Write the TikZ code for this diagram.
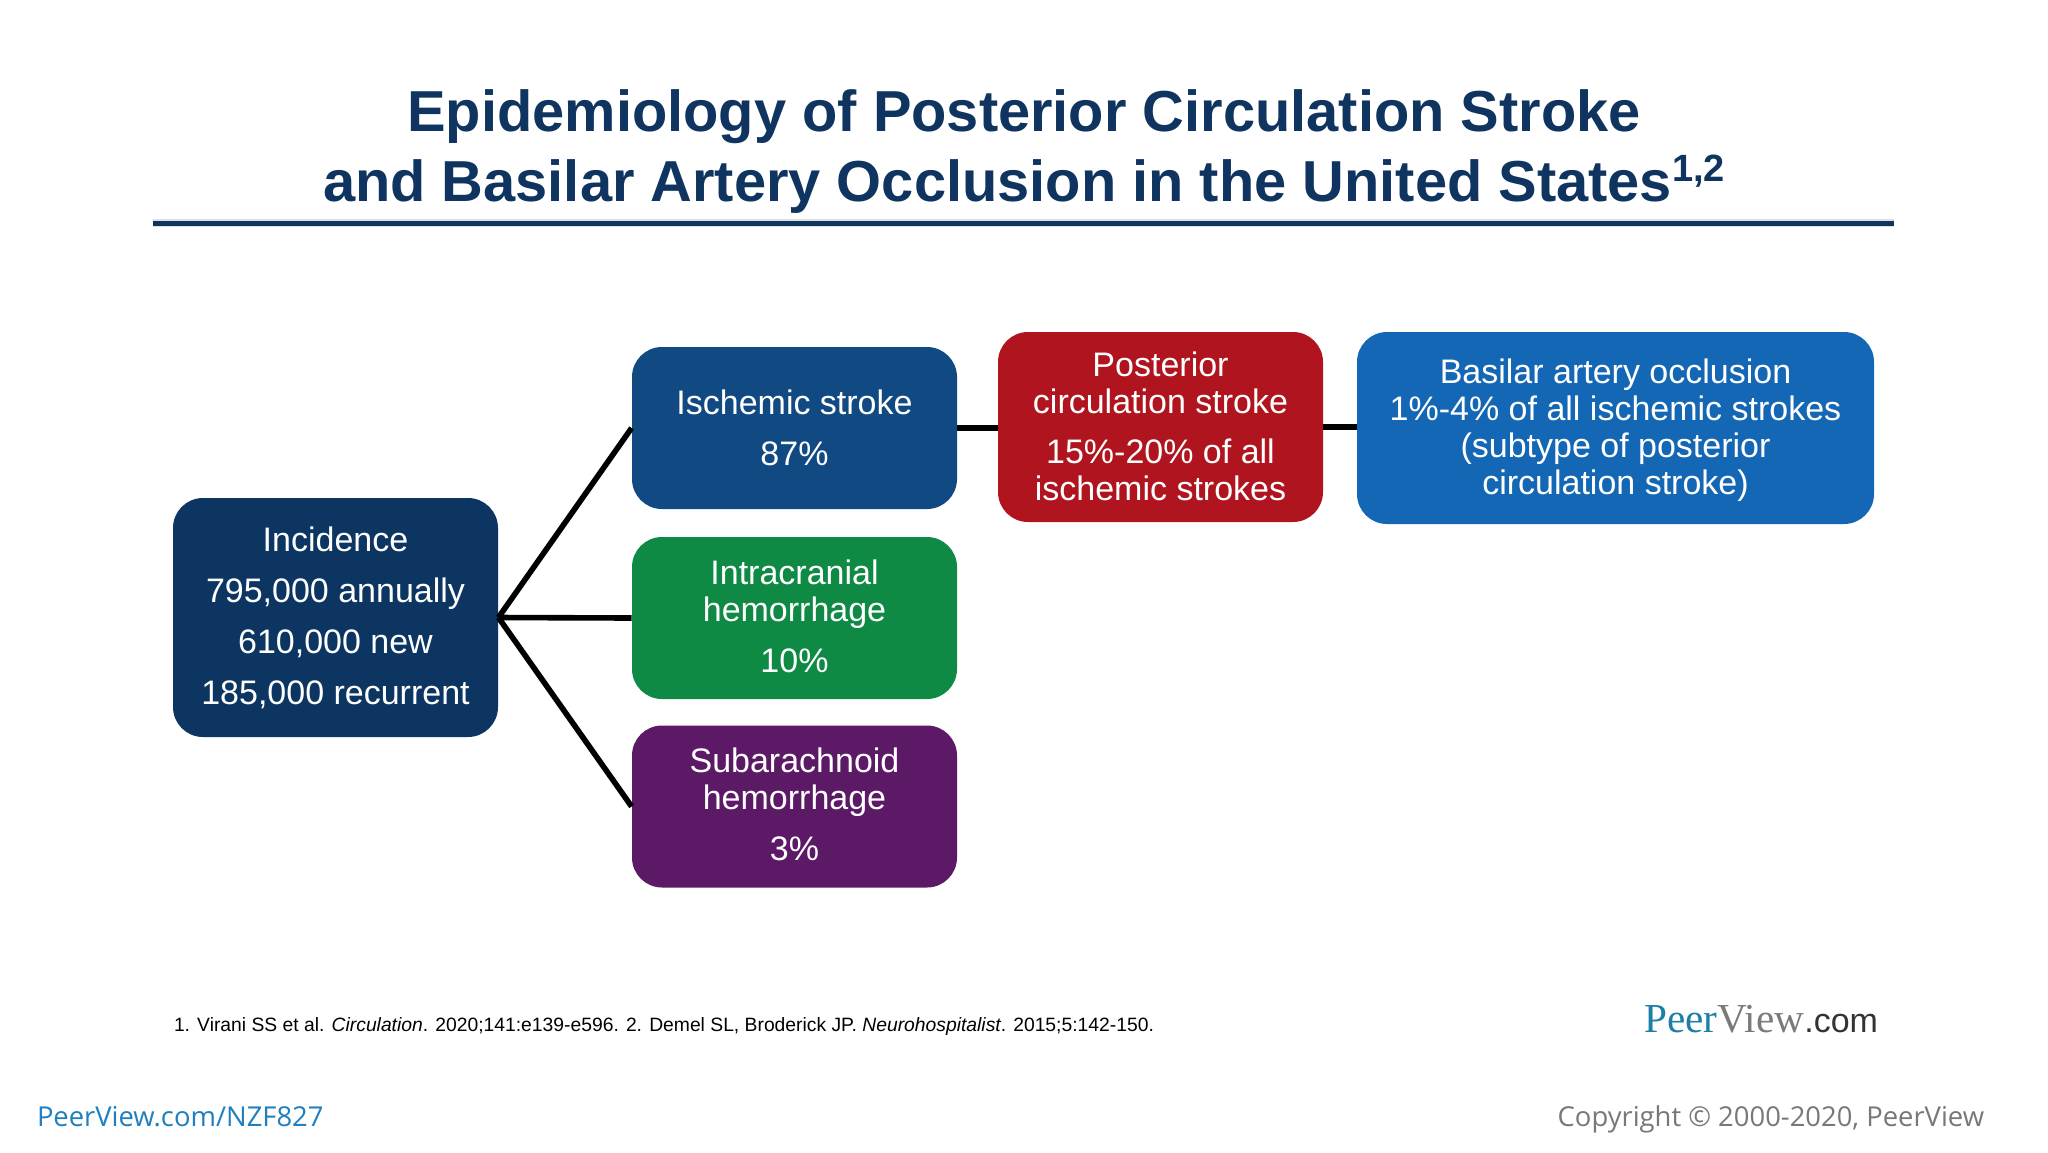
\documentclass[tikz,border=0pt]{standalone}
\usepackage{fontspec}
\setmainfont{Liberation Sans}
\newfontfamily\footfont{Open Sans}
\newfontfamily\brandserif{Liberation Serif}
\definecolor{titleblue}{HTML}{0F3460}
\definecolor{navybox}{HTML}{0C3562}
\definecolor{ischbox}{HTML}{114A82}
\definecolor{greenbox}{HTML}{0E8A44}
\definecolor{purplebox}{HTML}{5C1A66}
\definecolor{redbox}{HTML}{B0141F}
\definecolor{bluebox}{HTML}{1467B5}
\definecolor{linkblue}{HTML}{1F7FBF}
\definecolor{brandteal}{HTML}{1B7FA8}
\definecolor{brandgray}{HTML}{7A7A7A}
\definecolor{copygray}{HTML}{77787B}
\newcommand{\padbelow}{\\[-16.5pt]\mbox{}}
\tikzset{
  x=0.5pt,y=-0.5pt,
  box/.style={rounded corners=15pt,text=white,align=center,inner sep=0pt,minimum width=162.5pt,minimum height=81pt,font=\fontsize{17}{18.5}\selectfont},
  link/.style={draw=black,line width=2.8pt},
  txt/.style={inner sep=0pt,outer sep=0pt}
}
\begin{document}
\begin{tikzpicture}
\useasboundingbox[fill=white] (0,0) rectangle (2048,1152);
\node[txt,align=center,text=titleblue,font=\fontsize{28.9}{35}\selectfont\bfseries] (title) at (1024,151.5) {Epidemiology of Posterior Circulation Stroke\\and Basilar Artery Occlusion in the United States\raisebox{10pt}{\fontsize{19}{20}\selectfont 1,2}};
\coordinate (ruleL) at (153,223);
\coordinate (ruleR) at (1894,223);
\draw[line width=4pt,color=black!12,yshift=-1.5pt] (ruleL) -- (ruleR);
\draw[line width=2.5pt,color=titleblue] (ruleL) -- (ruleR);

\node[box,fill=navybox,minimum height=119.5pt] (inc) at (335.5,617.5) {Incidence\\[7pt]795,000 annually\\[7pt]610,000 new\\[7pt]185,000 recurrent};
\node[box,fill=ischbox] (isch) at (794.5,428) {Ischemic stroke\\[7pt]87\%};
\node[box,fill=greenbox] (ich) at (794.5,618) {Intracranial\\hemorrhage\\[7pt]10\%\padbelow};
\node[box,fill=purplebox] (sah) at (794.5,806.5) {Subarachnoid\\hemorrhage\\[7pt]3\%\padbelow};
\node[box,fill=redbox,minimum height=95pt] (red) at (1160.5,427) {Posterior\\circulation stroke\\[6.8pt]15\%-20\% of all\\ischemic strokes\\[-17.5pt]\mbox{}};
\node[box,fill=bluebox,minimum width=258.5pt,minimum height=96pt] (blue) at (1615.5,428) {\rule{0pt}{14.4pt}Basilar artery occlusion\\1\%-4\% of all ischemic strokes\\(subtype of posterior\\circulation stroke)};

\draw[link] (inc.east) -- (isch.west);
\draw[link] (inc.east) -- (ich.west);
\draw[link] (inc.east) -- (sah.west);
\draw[link] (isch.east) -- (isch.east -| red.west);
\draw[link] (red.east) -- (red.east -| blue.west);

\node[txt,anchor=base west,font=\fontsize{9.65}{11}\selectfont] (refs) at (174,1031) {1. Virani SS et al. \textit{Circulation}. 2020;141:e139-e596. 2. Demel SL, Broderick JP. \textit{Neurohospitalist}. 2015;5:142-150.};
\node[txt,anchor=base east] (brand) at (1878,1032) {{\brandserif\fontsize{20.6}{22}\selectfont\color{brandteal}Peer\color{brandgray}View}{\fontsize{17}{20}\selectfont\color{black!80}.com}};
\node[txt,anchor=base west,font=\footfont\fontsize{13.7}{16}\selectfont,text=linkblue] (url) at (37,1126) {PeerView.com/NZF827};
\node[txt,anchor=base east,font=\footfont\fontsize{13.7}{16}\selectfont,text=copygray] (copy) at (1984,1126) {Copyright © 2000-2020, PeerView};
\end{tikzpicture}
\end{document}
